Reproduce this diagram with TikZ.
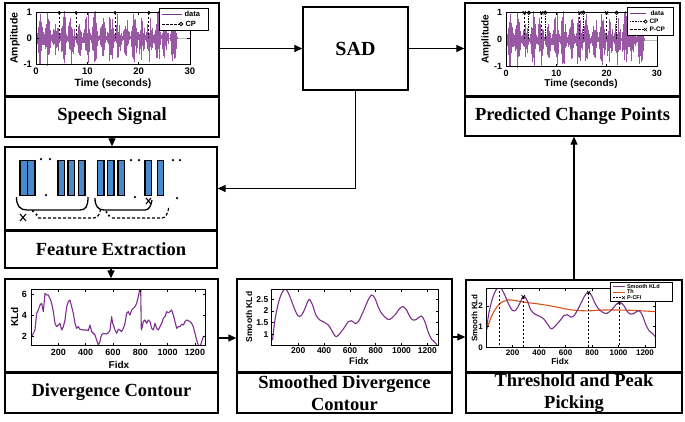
\documentclass[tikz,border=0pt]{standalone}
\usepackage{fontspec}
\setmainfont{Liberation Serif}
\newfontfamily\psans{Liberation Sans}
\usetikzlibrary{arrows.meta,fit,calc}
\definecolor{mpurple}{RGB}{126,47,142}
\definecolor{morange}{RGB}{217,83,25}
\definecolor{fblue}{RGB}{72,138,204}
\newcommand\xmk[1]{\draw[line width=0.6pt] ([shift={(-1.7pt,-1.7pt)}]#1) -- ([shift={(1.7pt,1.7pt)}]#1) ([shift={(-1.7pt,1.7pt)}]#1) -- ([shift={(1.7pt,-1.7pt)}]#1);}
\newcommand\smoothcurve{plot[smooth,tension=0.55] coordinates {(0,0.75) (19,1.61) (45,2.32) (71,2.75) (97,2.95) (110,2.89) (135,2.61) (174,2.04) (200,1.78) (226,1.82) (252,2.11) (277,2.44) (290,2.47) (311,2.25) (337,1.82) (368,1.61) (406,1.50) (432,1.40) (458,1.18) (484,0.93) (497,0.90) (523,1.04) (561,1.32) (587,1.54) (613,1.58) (639,1.47) (665,1.54) (703,1.97) (742,2.47) (768,2.68) (794,2.54) (819,2.18) (845,1.90) (884,1.68) (910,1.64) (948,1.82) (987,2.11) (1013,2.18) (1039,2.04) (1065,1.75) (1090,1.61) (1116,1.64) (1155,1.78) (1181,1.54) (1206,1.11) (1232,0.80) (1260,0.65) (1290,0.42)}}
\newcommand\speechsig{%
  \pgfmathsetseed{21}%
  \foreach \i in {0,...,274}{
    \pgfmathsetmacro\t{0.05+\i*0.1}
    \pgfmathsetmacro\e{0.06+0.94*(abs(sin(\t*118)))^1.3*(0.55+0.45*abs(sin(\t*41+25)))}
    \pgfmathsetmacro\a{min(1.06,\e*(0.12+1.1*rnd))}
    \pgfmathsetmacro\b{min(1.06,\e*(0.12+1.1*rnd))}
    \draw[sig] (\t,-\b) -- (\t,\a);
  }}
\begin{document}
\begin{tikzpicture}[x=1pt,y=-1pt,
  box/.style={draw=black,line width=1.3pt,inner sep=0pt},
  title/.style={font=\fontsize{18.5}{21.5}\selectfont\bfseries,align=center,inner sep=0pt},
  arr/.style={line width=1.2pt,-{Triangle[length=8pt,width=7pt]}},
  tk/.style={font=\psans\bfseries\fontsize{9}{9}\selectfont,inner sep=0.8pt},
  tks/.style={font=\psans\bfseries\fontsize{8}{8}\selectfont,inner sep=0.8pt},
  axl/.style={font=\psans\bfseries\fontsize{10.5}{10.5}\selectfont,inner sep=0pt},
  axs/.style={font=\psans\bfseries\fontsize{8.5}{8.5}\selectfont,inner sep=0pt},
  lg/.style={font=\psans\bfseries\fontsize{6.5}{6.5}\selectfont,inner sep=0.3pt},
  sig/.style={mpurple!80,line width=0.42pt},
  dv/.style={line width=2.6pt},
  bar/.style={draw=black,fill=fblue,line width=1.6pt},
  fdash/.style={line width=1.2pt,dash pattern=on 3pt off 2pt},
  cpd/.style={line width=0.9pt,dash pattern=on 2.5pt off 1.5pt},
  cpo/.style={line width=0.9pt,dash pattern=on 0.8pt off 0.8pt},
]
\fill[white] (0,0) rectangle (685,421);
\useasboundingbox (0,0) rectangle (685,421);

% ---------- boxes ----------
\node[box,fit={(5,3)(219,96)}] (sp) {};
\node[box,fit={(5,96)(219,137)}] (spl) {};
\node[title] (spt) at (spl.center) {Speech Signal};
\draw[dv] (sp.south west) -- (sp.south east);

\node[box,fit={(303,7)(408,90)}] (sad) {};
\node[title,font=\fontsize{20}{24}\selectfont\bfseries] (sadt) at (sad.center) {SAD};

\node[box,fit={(465,3)(680,96)}] (pc) {};
\node[box,fit={(465,96)(680,136)}] (pcl) {};
\node[title] (pct) at (pcl.center) {Predicted Change Points};
\draw[dv] (pc.south west) -- (pc.south east);

\node[box,fit={(5,147)(217,230)}] (fe) {};
\node[box,fit={(5,230)(217,268)}] (fel) {};
\node[title] (fet) at (fel.center) {Feature Extraction};
\draw[dv] (fe.south west) -- (fe.south east);

\node[box,fit={(5,279)(218,372)}] (dc) {};
\node[box,fit={(5,372)(218,413)}] (dcl) {};
\node[title] (dct) at (dcl.center) {Divergence Contour};
\draw[dv] (dc.south west) -- (dc.south east);

\node[box,fit={(237,279)(452,372)}] (sd) {};
\node[box,fit={(237,372)(452,413)}] (sdl) {};
\node[title] (sdt) at (344.5,393) {Smoothed Divergence\\Contour};
\draw[dv] (sd.south west) -- (sd.south east);

\node[box,fit={(466,280)(682,372)}] (th) {};
\node[box,fit={(466,372)(682,413)}] (thl) {};
\node[title] (tht) at (574,393) {Threshold and Peak\\Picking};
\draw[dv] (th.south west) -- (th.south east);

% ---------- connectors ----------
\draw[arr] (sad.west -| sp.east) -- (sad.west);
\draw[arr] (sad.east) -- (sad.east -| pc.west);
\draw[arr] (sad.south) |- (fe.east);
\draw[arr] (spl.south) -- (spl.south |- fe.north);
\draw[arr] (fel.south) -- (fel.south |- dc.north);
\coordinate (d1) at ([yshift=-12.5pt]dc.east);
\draw[arr] (d1) -- (d1 -| sd.west);
\coordinate (d2) at ([yshift=-11.5pt]sd.east);
\draw[arr] (d2) -- (d2 -| th.west);
\draw[arr] (th.north) -- (th.north |- pcl.south);

% ---------- speech signal plot ----------
\begin{scope}[shift={(36,38.35)},x=5.133pt,y=25.65pt]
  \begin{scope}
    \clip (0,-1.04) rectangle (30,1.04);
    \draw[gray!55,line width=0.4pt] (0,0) -- (30,0);
    \speechsig
  \end{scope}
  \foreach \c in {4.54,7.8,15.4,22.0}{
    \draw[cpd] (\c,1) -- (\c,0);
    \fill (\c,1) circle[radius=1.8pt];
  }
  \draw[line width=0.6pt] (0,-1) rectangle (30,1);
  \foreach \v in {10,20}{
    \draw[line width=0.5pt] (\v,-1) -- ++(0,2.5pt) (\v,1) -- ++(0,-2.5pt);
  }
  \draw[line width=0.5pt] (0,0) -- ++(2.5pt,0) (30,0) -- ++(-2.5pt,0);
  \foreach \v in {0,10,20,30}{
    \node[tk,font=\psans\bfseries\fontsize{9.5}{9.5}\selectfont,anchor=north] (sx\v) at ([yshift=-2.5pt]\v,-1) {\v};
  }
  \node[tk,font=\psans\bfseries\fontsize{9.5}{9.5}\selectfont,anchor=east] (sy1) at ([xshift=-3pt]0,1) {1};
  \node[tk,font=\psans\bfseries\fontsize{9.5}{9.5}\selectfont,anchor=east] (sy0) at ([xshift=-3pt]0,0) {0};
  \node[tk,font=\psans\bfseries\fontsize{9.5}{9.5}\selectfont,anchor=east] (sym) at ([xshift=-3pt]0,-1) {-1};
\end{scope}
\node[axl] (sxl) at (113,83.5) {Time (seconds)};
\node[axl,rotate=90] (syl) at (15,38) {Amplitude};
\draw[fill=white,line width=0.6pt] (159,8) rectangle (208,30);
\draw[mpurple,line width=0.8pt] (162,14) -- (182,14);
\node[lg,font=\psans\bfseries\fontsize{7.5}{7.5}\selectfont,anchor=west] (sl1) at (184,14) {data};
\draw[cpd] (162,24) -- (179,24);
\draw[fill=white,line width=0.8pt] (181,24) circle[radius=1.7pt];
\node[lg,font=\psans\bfseries\fontsize{7.5}{7.5}\selectfont,anchor=west] (sl2) at (185,24) {CP};

% ---------- predicted change points plot ----------
\begin{scope}[shift={(506,39.7)},x=5.03pt,y=27pt]
  \begin{scope}
    \clip (0,-1.04) rectangle (30,1.04);
    \draw[gray!55,line width=0.4pt] (0,0) -- (30,0);
    \speechsig
  \end{scope}
  \foreach \c in {4.54,7.8,15.4,22.0}{
    \draw[cpo] (\c,1) -- (\c,0);
    \draw[fill=white,line width=0.8pt] (\c,1) circle[radius=1.7pt];
  }
  \foreach \c in {3.65,7.1,14.7,20.0}{
    \draw[cpd] (\c,1) -- (\c,0);
    \xmk{\c,1}
  }
  \draw[line width=0.6pt] (0,-1) rectangle (30,1);
  \foreach \v in {10,20}{
    \draw[line width=0.5pt] (\v,-1) -- ++(0,2.5pt) (\v,1) -- ++(0,-2.5pt);
  }
  \foreach \v in {0,10,20,30}{
    \node[tk,anchor=north] (px\v) at ([yshift=-2.5pt]\v,-1) {\v};
  }
  \node[tk,anchor=east] (py1) at ([xshift=-3pt]0,1) {1};
  \node[tk,anchor=east] (py0) at ([xshift=-3pt]0,0) {0};
  \node[tk,anchor=east] (pym) at ([xshift=-3pt]0,-1) {-1};
\end{scope}
\node[axl,font=\psans\bfseries\fontsize{10}{10}\selectfont] (pxl) at (581,84) {Time (seconds)};
\node[axl,font=\psans\bfseries\fontsize{10}{10}\selectfont,rotate=90] (pyl) at (486,39) {Amplitude};
\draw[fill=white,line width=0.6pt] (627.5,7.5) rectangle (673,35);
\draw[mpurple,line width=0.8pt] (630,13.5) -- (646,13.5);
\node[lg,anchor=west] (pl1) at (650,13.5) {data};
\draw[cpo] (630,21.5) -- (644,21.5);
\draw[fill=white,line width=0.8pt] (645.5,21.5) circle[radius=1.6pt];
\node[lg,anchor=west] (pl2) at (649,21.5) {CP};
\draw[cpd] (630,29.5) -- (644,29.5);
\xmk{645.5,29.5}
\node[lg,anchor=west] (pl3) at (649,29.5) {P-CP};

% ---------- feature extraction ----------
\foreach \a/\b in {20/27.5,27.5/35,58/64.5,68/74.5,78.5/85,97.5/104,107.5/114,118/124.5,145/151.5,157.5/163.5}{
  \draw[bar] (\a,160.5) rectangle (\b,195.5);
}
\foreach \p in {(41,159),(50,159),(46,195),(131,160),(139,160),(135,197),(173,160),(180,160),(177,198),(33,211),(36.5,214.5),(106.5,212),(109,215.5)}{
  \fill \p circle[radius=1.25pt];
}
\draw[line width=1.3pt] (16.5,197) .. controls (16.5,206) and (20,210) .. (27,210) -- (80,210) .. controls (86,210) and (88,206) .. (88,197);
\draw[line width=1.3pt] (95,198) .. controls (95,206) and (98,210) .. (104,210) -- (145,210) .. controls (149,210) and (151,206) .. (152,200);
\draw[fdash] (38,218) -- (94,218) .. controls (98,218) and (100,214) .. (101,207);
\draw[fdash] (112,218) -- (162,218) .. controls (166,218) and (168,213) .. (169,206);
\draw[line width=1.1pt] (20,214) -- (26,221) (26,214) -- (20,221);
\draw[line width=1.1pt] (146,198) -- (151,204) (151,198) -- (146,204);

% ---------- divergence contour plot ----------
\begin{scope}
  \clip (31,289) rectangle (205.7,345.7);
  \begin{scope}[shift={(30,280)},x=0.3333pt,y=-0.3333pt]
    \draw[mpurple,line width=1.1pt,line join=round] plot coordinates {(5,170)(10,160)(15,150)(20,100)(25,90)(30,75)(35,70)(38,85)(40,95)(45,40)(50,45)(55,45)(58,52)(62,60)(66,75)(70,95)(75,130)(80,140)(85,135)(90,130)(95,150)(100,140)(105,120)(110,80)(115,65)(120,60)(125,80)(130,100)(135,130)(140,145)(145,140)(150,148)(160,150)(170,150)(175,152)(180,135)(185,155)(190,160)(195,165)(200,180)(205,195)(210,185)(213,170)(215,165)(220,160)(230,162)(238,155)(240,150)(245,110)(248,130)(252,140)(255,150)(260,160)(265,148)(270,150)(275,155)(280,145)(285,130)(290,100)(295,95)(300,105)(305,90)(310,85)(315,80)(320,70)(325,50)(330,25)(332,20)(334,150)(337,140)(340,125)(345,120)(350,130)(355,120)(360,125)(365,145)(370,150)(375,130)(380,145)(385,150)(390,140)(395,130)(400,115)(405,110)(410,95)(415,98)(420,95)(425,90)(430,105)(435,125)(440,145)(445,140)(450,140)(455,133)(460,135)(465,125)(470,120)(475,122)(480,125)(485,130)(490,140)(495,160)(500,180)(505,195)(510,200)(515,185)(520,170)(527,168)};
  \end{scope}
\end{scope}
\draw[line width=0.6pt] (31,289) rectangle (205.7,345.7);
\foreach \v/\x in {200/58.3,400/85.7,600/113.0,800/140.4,1000/167.7,1200/195.0}{
  \draw[line width=0.5pt] (\x,345.7) -- ++(0,-2.5) (\x,289) -- ++(0,2.5);
  \node[tk,anchor=north] (dx\v) at (\x,348.5) {\v};
}
\foreach \v/\y in {2/336.7,4/315.5,6/294.3}{
  \draw[line width=0.5pt] (31,\y) -- ++(2.5,0) (205.7,\y) -- ++(-2.5,0);
  \node[tk,anchor=east] (dy\v) at (28,\y) {\v};
}
\node[axl,font=\psans\bfseries\fontsize{10}{10}\selectfont] (dxl) at (119,364.5) {Fidx};
\node[axl,font=\psans\bfseries\fontsize{10}{10}\selectfont,rotate=90] (dyl) at (14.5,317) {KLd};

% ---------- smoothed divergence plot ----------
\begin{scope}[shift={(272.5,357.7)},x=0.129pt,y=23.4pt]
  \begin{scope}
    \clip (-6,0.543) rectangle (1287,2.923);
    \draw[mpurple,line width=1.1pt] \smoothcurve;
  \end{scope}
  \draw[line width=0.6pt] (-6,0.543) rectangle (1287,2.923);
  \foreach \v in {200,400,...,1200}{
    \draw[line width=0.5pt] (\v,0.543) -- ++(0,2.5pt) (\v,2.923) -- ++(0,-2.5pt);
    \node[tk,font=\psans\bfseries\fontsize{8.5}{8.5}\selectfont,anchor=north] (mx\v) at ([yshift=-2pt]\v,0.543) {\v};
  }
  \foreach \v/\n in {1/a,1.5/b,2/c,2.5/d}{
    \draw[line width=0.5pt] (-6,\v) -- ++(2.5pt,0) (1287,\v) -- ++(-2.5pt,0);
    \node[tk,font=\psans\bfseries\fontsize{8.5}{8.5}\selectfont,anchor=east] (my\n) at ([xshift=-2.5pt]-6,\v) {\v};
  }
\end{scope}
\node[axs,font=\psans\bfseries\fontsize{9.5}{9.5}\selectfont] (mxl) at (359,361) {Fidx};
\node[axs,rotate=90] (myl) at (249,317) {Smooth KLd};

% ---------- threshold plot ----------
\begin{scope}[shift={(486.2,347.3)},x=0.1323pt,y=20.6pt]
  \begin{scope}
    \clip (0,0) rectangle (1281,2.864);
    \draw[morange,line width=1.1pt] plot[smooth,tension=0.6] coordinates {(0,0.8) (40,1.5) (80,1.95) (120,2.2) (160,2.3) (220,2.27) (300,2.18) (400,2.1) (520,1.97) (640,1.82) (760,1.77) (880,1.81) (1000,1.81) (1120,1.79) (1281,1.73)};
    \draw[mpurple,line width=1.1pt] \smoothcurve;
    \foreach \c/\h in {100/2.93,280/2.45,775/2.66,1005/2.17}{
      \draw[cpd] (\c,\h) -- (\c,0);
      \xmk{\c,\h}
    }
  \end{scope}
  \draw[line width=0.6pt] (0,0) rectangle (1281,2.864);
  \foreach \v in {200,400,...,1200}{
    \draw[line width=0.5pt] (\v,0) -- ++(0,2.5pt) (\v,2.864) -- ++(0,-2.5pt);
    \node[tks,anchor=north] (tx\v) at ([yshift=-2pt]\v,0) {\v};
  }
  \foreach \v in {0,1,2}{
    \draw[line width=0.5pt] (0,\v) -- ++(2.5pt,0) (1281,\v) -- ++(-2.5pt,0);
    \node[tks,anchor=east] (ty\v) at ([xshift=-2.5pt]0,\v) {\v};
  }
\end{scope}
\node[axs] (txl) at (560,361) {Fidx};
\node[axs,font=\psans\bfseries\fontsize{8}{8}\selectfont,rotate=90] (tyl) at (474.5,318) {Smooth KLd};
\draw[fill=white,line width=0.6pt] (610.7,282.3) rectangle (672.7,301.7);
\draw[mpurple,line width=0.9pt] (612.5,286.2) -- (625,286.2);
\node[lg,font=\psans\bfseries\fontsize{5.5}{5.5}\selectfont,anchor=west] (tl1) at (626.5,286.2) {Smooth KLd};
\draw[morange,line width=0.9pt] (612.5,292) -- (625,292);
\node[lg,font=\psans\bfseries\fontsize{5.5}{5.5}\selectfont,anchor=west] (tl2) at (626.5,292) {Th};
\draw[line width=0.8pt,dash pattern=on 2pt off 1.3pt] (612.5,297.8) -- (622,297.8);
\draw[line width=0.5pt] (622,296.3) -- (625,299.3) (622,299.3) -- (625,296.3);
\node[lg,font=\psans\bfseries\fontsize{5.5}{5.5}\selectfont,anchor=west] (tl3) at (626.5,297.8) {P-CFI};
\end{tikzpicture}
\end{document}
